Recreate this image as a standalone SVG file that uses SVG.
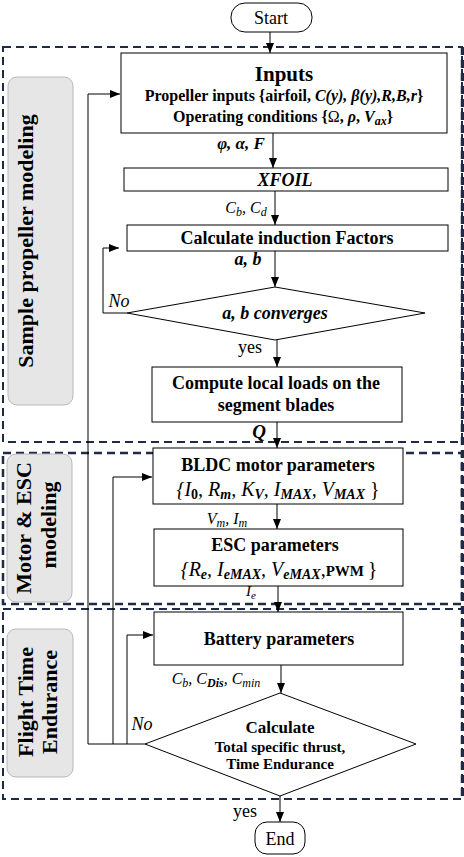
<svg xmlns="http://www.w3.org/2000/svg" width="464" height="857" viewBox="0 0 464 857">
<style>
text{font-family:"Liberation Serif","Times New Roman",serif;fill:#000}
.b{font-weight:bold}
.bi{font-weight:bold;font-style:italic}
.i{font-style:italic}
.box{fill:#fff;stroke:#000;stroke-width:1}
.sec{fill:none;stroke:#1f2a44;stroke-width:2;stroke-dasharray:8 5}
.lab{fill:#e6e6e6;stroke:#b8b8b8;stroke-width:1}
.ln{fill:none;stroke:#000;stroke-width:1}
.side{font-weight:bold;font-size:22px}
</style>
<defs>
<marker id="ah" markerUnits="userSpaceOnUse" markerWidth="10" markerHeight="10" viewBox="0 0 10 10" refX="10" refY="5" orient="auto">
<path d="M0,1 L10,5 L0,9 z" fill="#000"/>
</marker>
</defs>

<g id="sections">
<rect class="sec" x="3" y="47" width="459" height="395"/>
<rect class="sec" x="3" y="453" width="459" height="151" style="stroke-width:2.5"/>
<rect class="sec" x="3" y="609" width="459" height="190"/>
<line x1="462.5" y1="47" x2="462.5" y2="799" stroke="#1f2a44" stroke-width="3.5" stroke-dasharray="8 5"/>
</g>

<g id="label-propeller">
<rect class="lab" x="8" y="77" width="65" height="328" rx="9"/>
<text class="side" transform="translate(33,241) rotate(-90)" text-anchor="middle">Sample propeller modeling</text>
</g>
<g id="label-motor">
<rect class="lab" x="7" y="454" width="65" height="148" rx="9"/>
<text class="side" transform="translate(31,528) rotate(-90)" text-anchor="middle">Motor &amp; ESC</text>
<text class="side" transform="translate(56,525) rotate(-90)" text-anchor="middle">modeling</text>
</g>
<g id="label-flight">
<rect class="lab" x="7" y="629" width="66" height="148" rx="9"/>
<text class="side" transform="translate(33,702) rotate(-90)" text-anchor="middle">Flight Time</text>
<text class="side" transform="translate(57,702) rotate(-90)" text-anchor="middle">Endurance</text>
</g>

<g id="connectors">
<path class="ln" d="M270,32 V53" marker-end="url(#ah)"/>
<path class="ln" d="M273,133 V168" marker-end="url(#ah)"/>
<path class="ln" d="M275,191 V225" marker-end="url(#ah)"/>
<path class="ln" d="M275,251 V287" marker-end="url(#ah)"/>
<path class="ln" d="M277,340 V367" marker-end="url(#ah)"/>
<path class="ln" d="M277,422 V448" marker-end="url(#ah)"/>
<path class="ln" d="M277,504 V529" marker-end="url(#ah)"/>
<path class="ln" d="M278,586 V612" marker-end="url(#ah)"/>
<path class="ln" d="M281,665 V693" marker-end="url(#ah)"/>
<path class="ln" d="M280,796 V822" marker-end="url(#ah)"/>
<path class="ln" d="M127,313 H103 V248 H119" marker-end="url(#ah)"/>
<path class="ln" d="M145,744 H88 V94 H120" marker-end="url(#ah)"/>
<path class="ln" d="M113,744 V477 H152" marker-end="url(#ah)"/>
<path class="ln" d="M127,744 V635 H153" marker-end="url(#ah)"/>
<text class="bi" x="241" y="149" font-size="17" text-anchor="middle">φ, α, F</text>
<text class="i" x="246" y="213" font-size="16" text-anchor="middle">C<tspan dy="3" font-size="12">b</tspan><tspan dy="-3">, C</tspan><tspan dy="3" font-size="12">d</tspan></text>
<text class="bi" x="248" y="265" font-size="18" text-anchor="middle">a, b</text>
<text class="i" x="119" y="307" font-size="18" text-anchor="middle">No</text>
<text x="250" y="353" font-size="18" text-anchor="middle">yes</text>
<text class="bi" x="259" y="438" font-size="19" text-anchor="middle">Q</text>
<text class="i" x="227" y="524" font-size="16" text-anchor="middle">V<tspan dy="3" font-size="12">m</tspan><tspan dy="-3">, I</tspan><tspan dy="3" font-size="12">m</tspan></text>
<text class="i" x="251" y="596" font-size="15" text-anchor="middle">I<tspan dy="3" font-size="11">e</tspan></text>
<text class="i" x="216" y="684" font-size="16" text-anchor="middle">C<tspan dy="3" font-size="12">b</tspan><tspan dy="-3">, C</tspan><tspan dy="3" font-size="12" font-weight="bold">Dis</tspan><tspan dy="-3">, C</tspan><tspan dy="3" font-size="12">min</tspan></text>
<text class="i" x="142" y="730" font-size="18" text-anchor="middle">No</text>
<text x="245" y="817" font-size="18" text-anchor="middle">yes</text>
</g>

<g id="start">
<rect class="box" x="231" y="3" width="81" height="29" rx="14"/>
<text x="271" y="24" font-size="18" text-anchor="middle">Start</text>
</g>

<g id="inputs">
<rect class="box" x="121" y="53" width="326" height="80"/>
<text class="b" x="284" y="81" font-size="21" text-anchor="middle">Inputs</text>
<text class="b" x="284" y="101" font-size="16" text-anchor="middle">Propeller inputs {airfoil, <tspan class="bi">C(y), β(y),R,B,r</tspan>}</text>
<text class="b" x="283" y="122" font-size="16" text-anchor="middle">Operating conditions {<tspan font-weight="normal">Ω</tspan>, <tspan class="bi">ρ</tspan>, <tspan class="bi">V</tspan><tspan class="bi" dy="3" font-size="12">ax</tspan><tspan dy="-3">}</tspan></text>
</g>

<g id="xfoil">
<rect class="box" x="124" y="168" width="324" height="23"/>
<text class="bi" x="285" y="186" font-size="18" text-anchor="middle">XFOIL</text>
</g>

<g id="induction">
<rect class="box" x="127" y="225" width="321" height="26"/>
<text class="b" x="287" y="244" font-size="18" text-anchor="middle">Calculate induction Factors</text>
</g>

<g id="converge">
<polygon class="box" points="275,287 425,313 275,340 127,313"/>
<text class="bi" x="275" y="319" font-size="18" text-anchor="middle">a, b converges</text>
</g>

<g id="loads">
<rect class="box" x="152" y="367" width="250" height="55"/>
<text class="b" x="276" y="389" font-size="18" text-anchor="middle">Compute local loads on the</text>
<text class="b" x="276" y="411" font-size="18" text-anchor="middle">segment blades</text>
</g>

<g id="bldc">
<rect class="box" x="153" y="448" width="250" height="56"/>
<text class="b" x="278" y="471" font-size="18" text-anchor="middle">BLDC motor parameters</text>
<text class="i" x="278" y="496" font-size="20" text-anchor="middle">{I<tspan class="b" font-style="normal" dy="3" font-size="14">0</tspan><tspan dy="-3">, R</tspan><tspan class="bi" dy="3" font-size="14">m</tspan><tspan dy="-3">, K</tspan><tspan class="b" dy="3" font-size="14">V</tspan><tspan dy="-3">, I</tspan><tspan class="bi" dy="3" font-size="14">MAX</tspan><tspan dy="-3">, V</tspan><tspan class="bi" dy="3" font-size="14">MAX</tspan><tspan dy="-3" font-style="normal"> }</tspan></text>
</g>

<g id="esc">
<rect class="box" x="154" y="529" width="249" height="57"/>
<text class="b" x="275" y="551" font-size="18" text-anchor="middle">ESC parameters</text>
<text class="i" x="279" y="576" font-size="20" text-anchor="middle">{R<tspan class="bi" dy="3" font-size="14">e</tspan><tspan dy="-3">, I</tspan><tspan class="bi" dy="3" font-size="14">eMAX</tspan><tspan dy="-3">, V</tspan><tspan class="bi" dy="3" font-size="14">eMAX</tspan><tspan dy="-3" font-style="normal">,</tspan><tspan class="b" font-style="normal" font-size="15">PWM </tspan><tspan font-style="normal">}</tspan></text>
</g>

<g id="battery">
<rect class="box" x="154" y="612" width="249" height="53"/>
<text class="b" x="279" y="645" font-size="18" text-anchor="middle">Battery parameters</text>
</g>

<g id="endurance">
<polygon class="box" points="280,693 416,744 280,796 145,744"/>
<text class="b" x="280" y="733" font-size="17" text-anchor="middle">Calculate</text>
<text class="b" x="280" y="752" font-size="15" text-anchor="middle">Total specific thrust,</text>
<text class="b" x="280" y="769" font-size="15" text-anchor="middle">Time Endurance</text>
</g>

<g id="end">
<rect class="box" x="255" y="822" width="50" height="32" rx="12"/>
<text x="280" y="845" font-size="18" text-anchor="middle">End</text>
</g>
</svg>
